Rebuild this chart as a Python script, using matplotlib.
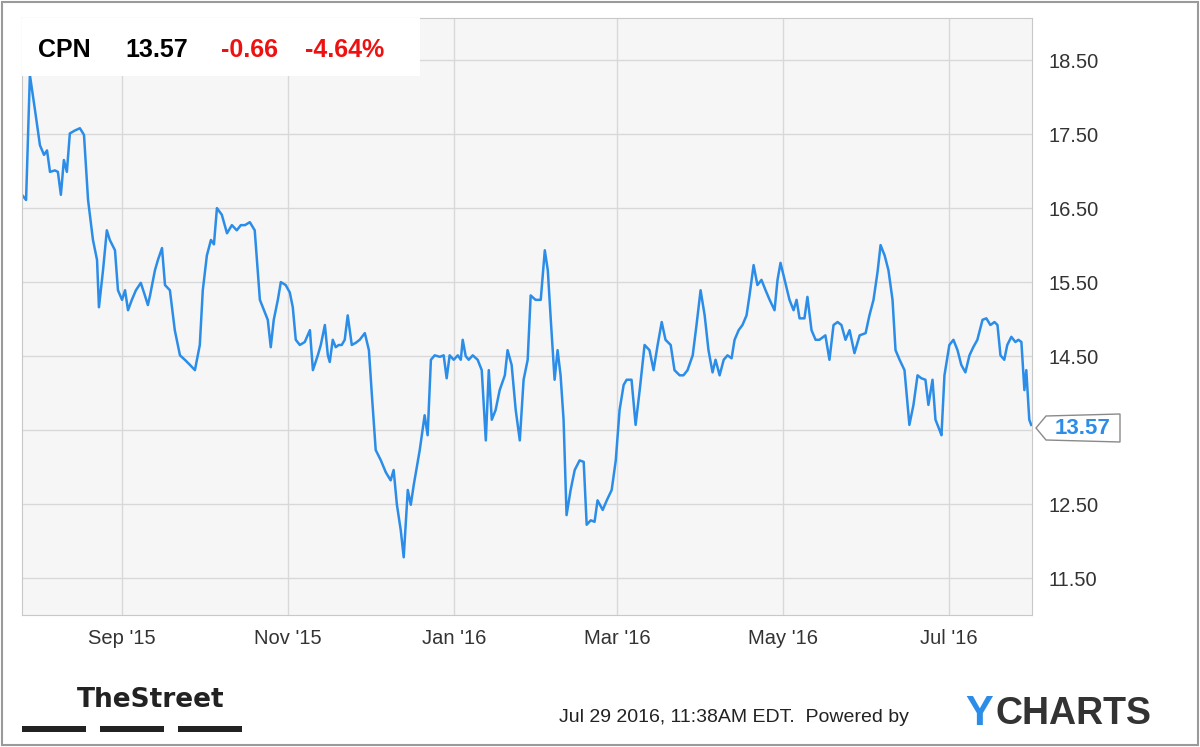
import numpy as np
import pandas as pd
import matplotlib
matplotlib.use('Agg')
import matplotlib.pyplot as plt
import matplotlib.dates as mdates
from matplotlib.patches import Rectangle, Polygon

# days since 2015-07-26 and close prices
days = [0, 1.5, 2.9, 4.8, 6.6, 8.1, 9.2, 10.3, 12.1, 13.2, 14.3, 15.4, 16.5, 17.6, 19.5, 21.3, 22.8, 24.3, 26.1, 27.6,
        28.3, 29.8, 31.2, 32.3, 34.2, 35.3, 36.8, 37.9, 39.0, 40.4, 41.9, 43.7, 45.2, 46.3, 47.1, 48.9, 50.0, 51.5, 52.6, 54.4,
        56.2, 58.1, 59.9, 61.8, 63.6, 65.4, 66.5, 68.0, 69.5, 70.6, 71.7, 73.5, 75.4, 77.2, 79.0, 80.5, 82.0, 83.8, 85.6, 86.4,
        87.5, 89.0, 90.4, 91.5, 92.6, 94.1, 95.2, 97.0, 98.5, 99.6, 100.7, 102.2, 104.0, 105.9, 107.0, 108.8, 109.9, 111.4, 112.5, 113.2,
        114.3, 115.4, 116.5, 117.6, 118.7, 119.8, 121.3, 122.8, 124.2, 126.1, 127.6, 128.7, 130.1, 132.0, 133.8, 135.6, 136.7, 137.9, 139.3, 140.4,
        141.9, 143.0, 144.1, 146.3, 148.1, 149.2, 150.4, 151.8, 153.7, 155.1, 156.2, 157.3, 158.8, 160.3, 161.4, 162.1, 163.2, 164.3, 165.8, 167.6,
        169.1, 170.6, 171.7, 172.8, 174.2, 175.7, 177.6, 178.6, 180.1, 181.6, 183.1, 184.5, 186.0, 187.1, 188.9, 190.8, 192.3, 193.4, 194.5, 195.9,
        197.0, 198.1, 199.2, 200.3, 201.8, 203.3, 205.1, 206.6, 207.7, 209.2, 210.6, 211.7, 213.6, 215.1, 216.9, 218.4, 219.8, 221.3, 222.4, 224.2,
        225.7, 227.2, 229.0, 230.8, 232.3, 233.8, 235.3, 236.7, 238.6, 240.0, 241.9, 243.3, 244.8, 246.7, 248.1, 249.6, 251.1, 252.5, 254.0, 255.1,
        256.6, 258.1, 259.5, 261.0, 262.1, 263.6, 265.0, 266.5, 267.6, 269.1, 270.5, 272.0, 273.5, 275.0, 276.8, 277.9, 279.0, 280.5, 282.3, 283.8,
        284.9, 286.0, 287.8, 288.9, 290.4, 291.9, 293.3, 295.5, 297.0, 298.5, 300.0, 301.4, 302.9, 304.4, 306.2, 308.1, 310.3, 311.7, 313.2, 314.7,
        315.8, 317.3, 318.7, 320.2, 321.3, 322.8, 324.6, 326.4, 327.9, 329.4, 330.8, 332.3, 333.4, 334.9, 336.0, 337.5, 338.2, 339.3, 341.1, 342.6,
        344.1, 345.5, 347.0, 348.5, 349.9, 351.4, 353.3, 354.7, 356.2, 357.7, 358.8, 359.9, 361.3, 362.4, 363.9, 365.4, 366.5, 367.6, 368.7, 369.4,
        370.5, 371.2]
prices = [16.68, 16.61, 18.30, 17.82, 17.35, 17.22, 17.28, 16.99, 17.01, 16.99, 16.68, 17.15, 16.99, 17.51, 17.55, 17.58, 17.49, 16.61, 16.07, 15.80,
          15.16, 15.66, 16.20, 16.07, 15.93, 15.39, 15.26, 15.39, 15.12, 15.26, 15.39, 15.49, 15.32, 15.19, 15.32, 15.66, 15.80, 15.96, 15.46, 15.39,
          14.85, 14.51, 14.45, 14.38, 14.31, 14.65, 15.39, 15.86, 16.07, 16.01, 16.50, 16.41, 16.16, 16.27, 16.20, 16.27, 16.27, 16.31, 16.20, 15.80,
          15.26, 15.12, 14.99, 14.62, 14.99, 15.26, 15.50, 15.46, 15.36, 15.16, 14.72, 14.65, 14.69, 14.85, 14.31, 14.51, 14.65, 14.92, 14.51, 14.42,
          14.72, 14.62, 14.65, 14.65, 14.72, 15.05, 14.65, 14.68, 14.72, 14.81, 14.58, 13.97, 13.23, 13.09, 12.93, 12.82, 12.96, 12.49, 12.15, 11.78,
          12.69, 12.49, 12.76, 13.23, 13.70, 13.43, 14.45, 14.51, 14.49, 14.51, 14.20, 14.51, 14.45, 14.51, 14.45, 14.72, 14.50, 14.45, 14.51, 14.45,
          14.31, 13.36, 14.31, 13.64, 13.77, 14.04, 14.24, 14.58, 14.38, 13.77, 13.36, 14.18, 14.45, 15.32, 15.26, 15.26, 15.93, 15.66, 14.99, 14.18,
          14.58, 14.24, 13.64, 12.35, 12.69, 12.96, 13.09, 13.07, 12.22, 12.28, 12.26, 12.55, 12.42, 12.55, 12.69, 13.09, 13.77, 14.11, 14.18, 14.18,
          13.57, 14.04, 14.65, 14.58, 14.31, 14.65, 14.96, 14.72, 14.65, 14.31, 14.24, 14.24, 14.31, 14.51, 14.92, 15.39, 15.05, 14.58, 14.28, 14.45,
          14.24, 14.45, 14.51, 14.47, 14.72, 14.85, 14.92, 15.05, 15.32, 15.73, 15.46, 15.53, 15.39, 15.26, 15.12, 15.53, 15.76, 15.53, 15.26, 15.12,
          15.26, 15.01, 15.01, 15.30, 14.85, 14.72, 14.72, 14.78, 14.45, 14.92, 14.96, 14.92, 14.72, 14.85, 14.54, 14.78, 14.81, 15.05, 15.26, 15.64,
          16.00, 15.86, 15.66, 15.26, 14.58, 14.45, 14.31, 13.57, 13.84, 14.24, 14.20, 14.18, 13.84, 14.18, 13.64, 13.50, 13.43, 14.24, 14.65, 14.72,
          14.58, 14.38, 14.28, 14.51, 14.62, 14.72, 14.99, 15.01, 14.92, 14.96, 14.92, 14.51, 14.45, 14.65, 14.76, 14.69, 14.72, 14.69, 14.04, 14.31,
          13.64, 13.57]
yticks = [11.50, 12.50, 13.50, 14.50, 15.50, 16.50, 17.50, 18.50]
xtick_dates = ['2015-09-01', '2015-11-01', '2016-01-01', '2016-03-01', '2016-05-01', '2016-07-01']
xtick_labels = ["Sep '15", "Nov '15", "Jan '16", "Mar '16", "May '16", "Jul '16"]
last_price = 13.57

start = pd.Timestamp('2015-07-26 04:00')
dates = [start + pd.Timedelta(days=d) for d in days]
blue = '#2b8de8'

plt.rcParams['font.family'] = ['Liberation Sans', 'DejaVu Sans']
fig = plt.figure(figsize=(12, 7.47), dpi=100)
fig.patches.append(Rectangle((0.002, 0.003), 0.996, 0.994, transform=fig.transFigure,
                             fill=False, ec='#9a9a9a', lw=1.5))

ax = fig.add_axes([22 / 1200, 1 - 615 / 747, 1010 / 1200, 597 / 747])
ax.set_facecolor('#f6f6f6')
ax.plot(dates, prices, color=blue, lw=1.8)
ax.set_xlim(start, start + pd.Timedelta(days=371.5))
ax.set_ylim(11.0, 19.07)
ax.yaxis.tick_right()
ax.set_yticks(yticks)
# the 13.50 label sits under the last-price marker, so it is hidden there
ax.set_yticklabels(['' if abs(v - last_price) < 0.3 else f'{v:.2f}' for v in yticks],
                   fontsize=14.5, color='#333333')
ax.set_xticks([pd.Timestamp(d) for d in xtick_dates])
ax.set_xticklabels(xtick_labels, fontsize=14.5, color='#333333')
ax.tick_params(length=0, pad=12)
ax.tick_params(axis='x', pad=10)
ax.grid(color='#d8d8d8', lw=1)
for s in ax.spines.values():
    s.set_color('#c8c8c8')

# title box
fig.patches.append(Rectangle((22 / 1200, 1 - 76 / 747), 398 / 1200, 58 / 747,
                             transform=fig.transFigure, fc='white', ec='none', zorder=3))
fig.text(38 / 1200, 1 - 50 / 747, 'CPN', fontsize=18, weight='bold', va='center', zorder=4)
fig.text(125 / 1200, 1 - 50 / 747, '13.57', fontsize=18, weight='bold', va='center', zorder=4)
fig.text(221 / 1200, 1 - 50 / 747, '-0.66', fontsize=18, weight='bold', color='#ee1111', va='center', zorder=4)
fig.text(305 / 1200, 1 - 50 / 747, '-4.64%', fontsize=18, weight='bold', color='#ee1111', va='center', zorder=4)

# last price marker
ly = 1 - 428 / 747
fig.patches.append(Polygon([(1036 / 1200, ly), (1046 / 1200, ly + 12 / 747), (1120 / 1200, ly + 14 / 747),
                            (1120 / 1200, ly - 14 / 747), (1046 / 1200, ly - 12 / 747)],
                           transform=fig.transFigure, fc='white', ec='#8a8a8a', lw=1, zorder=3))
fig.text(1083 / 1200, ly, f'{last_price:.2f}', fontsize=16, weight='bold', color=blue,
         ha='center', va='center', zorder=4)

# footer
fig.text(77 / 1200, 1 - 700 / 747, 'TheStreet', fontsize=19, weight='bold', family='Liberation Sans Narrow',
         va='center', color='#222222')
for x0 in [22, 100, 178]:
    fig.patches.append(Rectangle((x0 / 1200, 1 - 732 / 747), 64 / 1200, 6 / 747,
                                 transform=fig.transFigure, fc='#222222', ec='none'))
fig.text(559 / 1200, 1 - 717 / 747, 'Jul 29 2016, 11:38AM EDT.  Powered by', fontsize=14, va='center', color='#222222')
fig.text(965 / 1200, 1 - 714 / 747, 'Y', fontsize=30, weight='bold', va='center', color='#2b8de8')
fig.text(995 / 1200, 1 - 714 / 747, 'CHARTS', fontsize=27, weight='bold', va='center', color='#333333')

fig.savefig('out.png', dpi=100)
